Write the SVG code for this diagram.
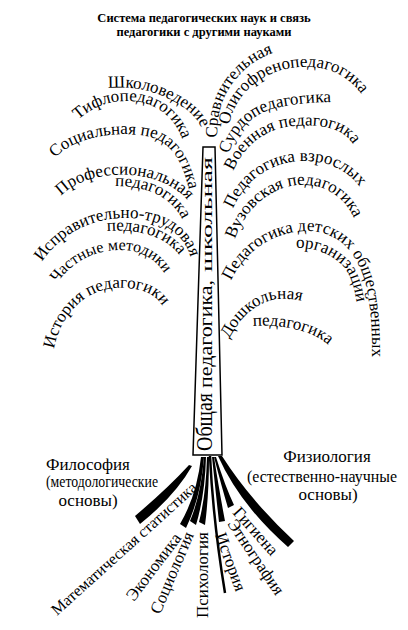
<svg xmlns="http://www.w3.org/2000/svg" xmlns:xlink="http://www.w3.org/1999/xlink" width="408" height="630" viewBox="0 0 408 630">
<style>
.t{font-family:"Liberation Serif","Times New Roman",serif;fill:#000}
.a{font-family:"Liberation Serif","Times New Roman",serif;font-size:17px;fill:#000}
.s{font-size:16px}
.h{font-family:"Liberation Serif","Times New Roman",serif;font-size:12.5px;font-weight:bold;fill:#000;text-anchor:middle}
.c{text-anchor:middle;font-size:17px}
.root{fill:#000;stroke:none}
</style>
<defs>
<path id="p1" d="M108,88 C130,86 150,90 165,97 C180,104 192,112 199,123 l10,20"/>
<path id="p2" d="M78,120 C95,105 110,101 128,101 C150,101 172,112 182,138 l8,20"/>
<path id="p3" d="M55,158 C75,136 120,130 150,137 C170,142 182,160 188,186 l6,20"/>
<path id="p4" d="M61,196 C85,170 150,165 184,196 l14,16"/>
<path id="p5" d="M115,186 C140,186 165,192 180,215 l10,18"/>
<path id="p6" d="M42,262 C60,235 90,218 125,218 C155,218 178,228 188,250 l7,20"/>
<path id="p7" d="M107,231 C135,229 160,234 177,252 l12,14"/>
<path id="p8" d="M57,283 C75,258 100,250 120,250 C140,250 155,258 165,274 l10,16"/>
<path id="p9" d="M54,349 C60,315 85,290 115,288 C140,287 155,293 163,307 l10,16"/>
<path id="p10" d="M217,138 C217,110 224,95 232,84 C242,70 255,60 270,54 l20,-8"/>
<path id="p11" d="M229,125 C235,95 260,70 300,67 C330,65 352,78 364,98 l10,16"/>
<path id="p12" d="M229,154 C236,128 255,112 280,107 C300,103 318,102 334,102 l20,0"/>
<path id="p13" d="M233,171 C245,145 265,128 295,126 C320,124 340,128 350,140 l12,16"/>
<path id="p14" d="M233,209 C245,180 270,163 300,161 C325,160 345,168 359,186 l12,16"/>
<path id="p15" d="M235,239 C245,210 268,188 298,185 C322,183 342,195 352,214 l10,18"/>
<path id="p16" d="M231,281 C245,250 275,232 305,231 C340,230 358,255 366,285 C370,305 372,325 372,346 l0,25"/>
<path id="p17" d="M296,248 C314,247 332,254 344,267 C351,276 354,287 356,298 l4,20"/>
<path id="p18" d="M229,339 C240,318 255,302 278,299 C290,298 300,300 308,303 l18,7"/>
<path id="p19" d="M253,326 C280,324 310,330 326,343 l14,12"/>
</defs>

<g id="title">
<text class="h" x="204" y="22">Система педагогических наук и связь</text>
<text class="h" x="204" y="36">педагогики с другими науками</text>
</g>

<g id="roots">
<path class="root" d="M189,465 Q168,488 135,516 L140,524 Q175,496 192,466 Z"/>
<path class="root" d="M201,457 Q197,495 180,524 L186,528 Q201,497 204,457 Z"/>
<path class="root" d="M204,457 Q201,495 190,521 L196,525 Q205,495 206,457 Z"/>
<path class="root" d="M207,457 Q206,495 199,522 L205,525 Q209,495 209,457 Z"/>
<path d="M210,456 Q213,520 225,593" fill="none" stroke="#000" stroke-width="2.5"/>
<path class="root" d="M212,457 Q216,495 219,522 L225,521 Q220,495 214,457 Z"/>
<path class="root" d="M214,457 Q222,488 228,508 L234,505 Q225,486 216,457 Z"/>
<path class="root" d="M218,456 Q240,505 288,547 L294,541 Q250,500 222,456 Z"/>
</g>

<g id="trunk">
<polygon points="203,147 215,147 222,455 193,455" fill="#fff" stroke="#000" stroke-width="1.5"/>
<g transform="translate(212,0) rotate(-90)">
<text class="t" x="-451" y="0" font-size="23" textLength="58" lengthAdjust="spacingAndGlyphs">Общая</text>
<text class="t" x="-388" y="0" font-size="18" textLength="108" lengthAdjust="spacingAndGlyphs">педагогика,</text>
<text class="t" x="-272" y="0" font-size="14.5" textLength="115" lengthAdjust="spacingAndGlyphs">школьная</text>
</g>
</g>

<g id="left-branches">
<g id="n-shkolovedenie"><text class="a"><textPath href="#p1" xlink:href="#p1">Школоведение</textPath></text></g>
<g id="n-tiflo"><text class="a"><textPath href="#p2" xlink:href="#p2">Тифлопедагогика</textPath></text></g>
<g id="n-social"><text class="a"><textPath href="#p3" xlink:href="#p3">Социальная педагогика</textPath></text></g>
<g id="n-prof"><text class="a"><textPath href="#p4" xlink:href="#p4">Профессиональная</textPath></text>
<text class="a"><textPath href="#p5" xlink:href="#p5">педагогика</textPath></text></g>
<g id="n-ispr"><text class="a"><textPath href="#p6" xlink:href="#p6">Исправительно-трудовая</textPath></text>
<text class="a"><textPath href="#p7" xlink:href="#p7">педагогика</textPath></text></g>
<g id="n-chastnye"><text class="a s"><textPath href="#p8" xlink:href="#p8">Частные методики</textPath></text></g>
<g id="n-istoriya-ped"><text class="a"><textPath href="#p9" xlink:href="#p9">История педагогики</textPath></text></g>
</g>

<g id="right-branches">
<g id="n-sravn"><text class="a"><textPath href="#p10" xlink:href="#p10">Сравнительная</textPath></text></g>
<g id="n-oligo"><text class="a"><textPath href="#p11" xlink:href="#p11">Олигофренопедагогика</textPath></text></g>
<g id="n-surdo"><text class="a"><textPath href="#p12" xlink:href="#p12">Сурдопедагогика</textPath></text></g>
<g id="n-voen"><text class="a"><textPath href="#p13" xlink:href="#p13">Военная педагогика</textPath></text></g>
<g id="n-vzrosl"><text class="a"><textPath href="#p14" xlink:href="#p14">Педагогика взрослых</textPath></text></g>
<g id="n-vuz"><text class="a"><textPath href="#p15" xlink:href="#p15">Вузовская педагогика</textPath></text></g>
<g id="n-detsk"><text class="a"><textPath href="#p16" xlink:href="#p16">Педагогика детских общественных</textPath></text>
<text class="a"><textPath href="#p17" xlink:href="#p17">организаций</textPath></text></g>
<g id="n-doshk"><text class="a"><textPath href="#p18" xlink:href="#p18">Дошкольная</textPath></text>
<text class="a"><textPath href="#p19" xlink:href="#p19">педагогика</textPath></text></g>
</g>

<g id="n-filosofiya">
<text class="t c" x="88" y="470">Философия</text>
<text class="t c" x="102" y="487" textLength="112" lengthAdjust="spacingAndGlyphs">(методологические</text>
<text class="t c" x="88" y="506">основы)</text>
</g>
<g id="n-fiziologiya">
<text class="t c" x="327" y="462">Физиология</text>
<text class="t c" x="322" y="482" textLength="150" lengthAdjust="spacingAndGlyphs">(естественно-научные</text>
<text class="t c" x="328" y="500">основы)</text>
</g>

<g id="root-labels">
<g id="n-matstat"><text class="a s" transform="translate(57,616) rotate(-42)">Математическая статистика</text></g>
<g id="n-ekonomika"><text class="a" transform="translate(134,602) rotate(-53)">Экономика</text></g>
<g id="n-sociologiya"><text class="a" transform="translate(160,615) rotate(-67)">Социология</text></g>
<g id="n-psihologiya"><text class="a" transform="translate(208,618) rotate(-90)">Психология</text></g>
<g id="n-istoriya"><text class="a" transform="translate(215,535) rotate(70)">История</text></g>
<g id="n-etnografiya"><text class="a" transform="translate(227,524) rotate(56)">Этнография</text></g>
<g id="n-gigiena"><text class="a" transform="translate(232,513) rotate(48)">Гигиена</text></g>
</g>
</svg>
